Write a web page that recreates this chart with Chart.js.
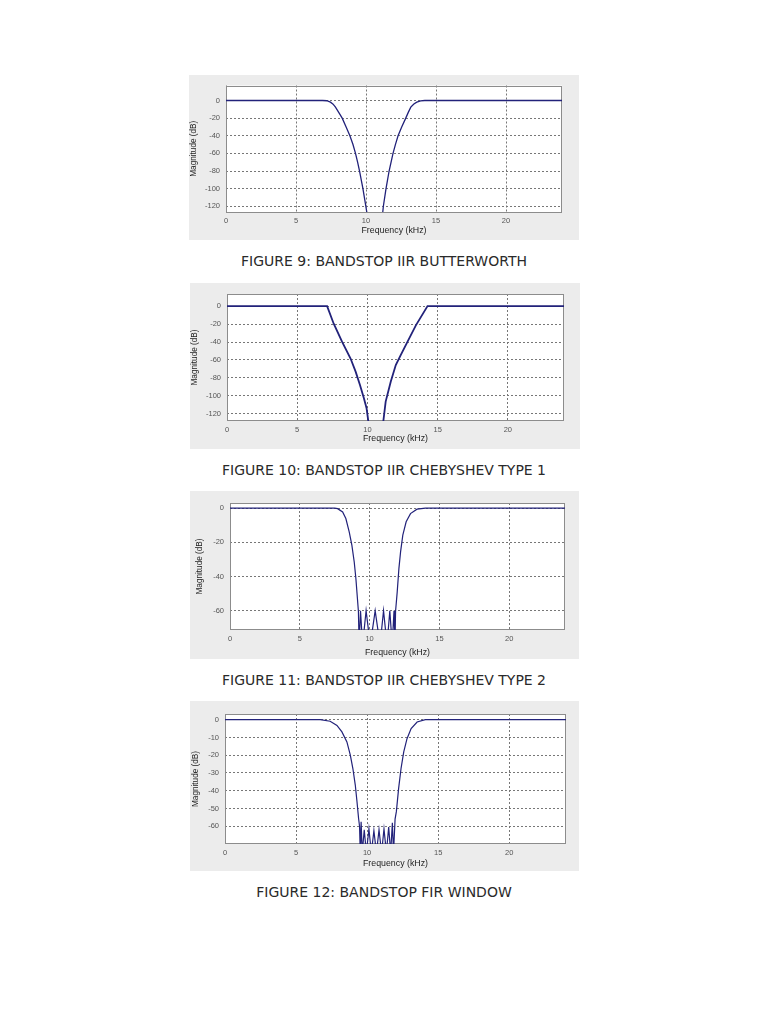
<!DOCTYPE html>
<html>
<head>
<meta charset="utf-8">
<script src="https://cdn.jsdelivr.net/npm/chart.js@4.4.0/dist/chart.umd.min.js"></script>
<style>
  html, body { margin: 0; padding: 0; background: #ffffff; }
  body { width: 768px; height: 1024px; position: relative; overflow: hidden; }
  .panel { position: absolute; background: #ececec; }
  .panel canvas { display: block; }
  .caption {
    position: absolute; left: 0; width: 768px; text-align: center;
    font-family: "DejaVu Sans", sans-serif; font-size: 14px; line-height: 16px; color: #2a2a2a;
  }
</style>
</head>
<body>
<script>
// shared frequency axis (kHz)
const freqTicks = [0, 5, 10, 15, 20];
const freqRange = [0, 24];

// Figure 9: IIR Butterworth
const butterFreq = [0, 6.9, 7.2, 7.46, 7.65, 7.82, 8.05, 8.3, 8.58, 8.85, 9.07, 9.25, 9.4, 9.54, 9.78, 9.99, 10.1,
                    11.17, 11.24, 11.43, 11.65, 11.93, 12.1, 12.29, 12.55, 12.84, 13.02, 13.2, 13.42, 13.63, 13.9, 14.2, 24];
const butterMag = [0, 0, -0.3, -1.9, -4.2, -7.5, -13.5, -20, -30, -40, -50, -60, -70, -80, -100, -120, -131,
                   -131, -120, -100, -80, -60, -50, -40, -30, -20, -13.5, -7.5, -4, -1.9, -0.4, 0, 0];
const butterTicks = [0, -20, -40, -60, -80, -100, -120];
const butterRange = [-126.5, 17];

// Figure 10: IIR Chebyshev type 1
const cheby1Freq = [0, 7.13, 7.6, 8.2, 8.8, 9.16, 9.47, 9.75, 9.94, 10.08,
                    11.12, 11.3, 11.66, 12.02, 12.37, 12.85, 13.45, 14.28, 24];
const cheby1Mag = [0, 0, -19.6, -39.9, -58.4, -73, -87.9, -102.7, -113.8, -130,
                   -130, -106.4, -84.2, -65.7, -54.7, -39.9, -21.4, 0, 0];
const cheby1Ticks = [0, -20, -40, -60, -80, -100, -120];
const cheby1Range = [-128, 13.5];

// Figure 11: IIR Chebyshev type 2
const cheby2Freq = [0, 7.5, 7.71, 8.07, 8.3, 8.54, 8.73, 8.9, 9.02, 9.13, 9.2,
                    9.25, 9.35, 9.5, 9.75, 10.05, 10.4, 10.75, 11.0, 11.25, 11.45, 11.62, 11.75, 11.82, 11.86,
                    11.98, 12.1, 12.22, 12.38, 12.62, 12.93, 13.4, 14.0, 24];
const cheby2Mag = [0, 0, -0.3, -2.2, -6.1, -13.9, -21.7, -31.5, -41.3, -53, -60.5,
                   -80, -60, -80, -60, -80, -60, -80, -60, -80, -60, -80, -60, -80, -60.5,
                   -49, -35.4, -25.6, -15.8, -8, -3.2, -0.6, 0, 0];
const cheby2Ticks = [0, -20, -40, -60];
const cheby2Range = [-71.3, 3];

// Figure 12: FIR window
const firFreq = [0, 6.7, 7.4, 7.88, 8.23, 8.58, 8.82, 9.0, 9.17, 9.29, 9.4, 9.47,
                 9.52, 9.58, 9.66, 9.8, 9.95, 10.13, 10.3, 10.48, 10.66, 10.84, 11.02, 11.19, 11.36, 11.52, 11.66, 11.78, 11.86, 11.97,
                 12.06, 12.22, 12.39, 12.58, 12.81, 13.1, 13.52, 14.1, 24];
const firMag = [0, 0, -0.9, -3.2, -6.9, -12.5, -20, -27.5, -36.8, -46.2, -55.5, -60,
                -75, -57.5, -75, -62, -75, -61.5, -75, -62.5, -75, -62, -75, -61.5, -75, -60.5, -75, -58, -75, -56,
                -51.8, -38.7, -27.5, -18.1, -10.7, -5, -1.3, 0, 0];
const firTicks = [0, -10, -20, -30, -40, -50, -60];
const firRange = [-70, 3.2];

const captions = [
  "FIGURE 9: BANDSTOP IIR BUTTERWORTH",
  "FIGURE 10: BANDSTOP IIR CHEBYSHEV TYPE 1",
  "FIGURE 11: BANDSTOP IIR CHEBYSHEV TYPE 2",
  "FIGURE 12: BANDSTOP FIR WINDOW"
];

// page layout: grey box, plot rectangle, axis-title centres, caption centre
const layouts = [
  { box: [189, 75, 390, 165], plot: [226, 84, 562, 212], yTitleX: 193, xTitleY: 230.7, capY: 261, lw: 1.3 },
  { box: [190, 283, 390, 166], plot: [227, 294, 564, 421], yTitleX: 194, xTitleY: 438.7, capY: 470, lw: 1.8 },
  { box: [190, 491, 389, 168], plot: [230, 503, 565, 630], yTitleX: 199.7, xTitleY: 652.3, capY: 680, lw: 1.2 },
  { box: [190, 701, 389, 170], plot: [225, 714, 566, 844], yTitleX: 195.3, xTitleY: 863.3, capY: 892, lw: 1.2 }
];

const LINE = "#22227a";
const GRID = "#777777";
const FRAME = "#8c8c8c";
const FONT = "'Liberation Sans', Arial, sans-serif";

// grey box round the plot area
const framePlugin = {
  id: "frame",
  beforeDatasetsDraw: (chart) => {
    const { ctx, chartArea: a } = chart;
    ctx.save();
    ctx.strokeStyle = FRAME;
    ctx.lineWidth = 1;
    ctx.strokeRect(Math.round(a.left) + 0.5, Math.round(a.top) + 0.5,
                   Math.round(a.right - a.left) - 1, Math.round(a.bottom - a.top) - 1);
    ctx.restore();
  }
};

// white plot background
const plotBg = {
  id: "plotBg",
  beforeDraw: (chart) => {
    const { ctx, chartArea: a } = chart;
    ctx.save();
    ctx.fillStyle = "#ffffff";
    ctx.fillRect(a.left, a.top, a.right - a.left, a.bottom - a.top);
    ctx.restore();
  }
};

function drawPanel(L, freq, mag, yTicks, yRange, caption) {
  const [left, top, w, h] = L.box;
  const [pl, pt, pr, pb] = L.plot;

  const div = document.createElement("div");
  div.className = "panel";
  div.style.left = left + "px";
  div.style.top = top + "px";
  div.style.width = w + "px";
  div.style.height = h + "px";
  const canvas = document.createElement("canvas");
  canvas.width = w;
  canvas.height = h;
  div.appendChild(canvas);
  document.body.appendChild(div);

  const cap = document.createElement("div");
  cap.className = "caption";
  cap.style.top = (L.capY - 8) + "px";
  cap.textContent = caption;
  document.body.appendChild(cap);

  const xTitleSize = 8.8, yTitleSize = 8.2;
  const padL = Math.max(0, L.yTitleX - left - yTitleSize * 0.6);
  const padB = Math.max(0, top + h - L.xTitleY - xTitleSize * 0.6);

  new Chart(canvas, {
    type: "line",
    data: {
      datasets: [{
        data: freq.map((f, i) => ({ x: f, y: mag[i] })),
        borderColor: LINE,
        borderWidth: L.lw,
        pointRadius: 0,
        tension: 0,
        fill: false
      }]
    },
    options: {
      responsive: false,
      animation: false,
      events: [],
      layout: {
        padding: { left: padL, top: pt - top, right: left + w - pr, bottom: padB }
      },
      plugins: {
        legend: { display: false },
        tooltip: { enabled: false }
      },
      scales: {
        x: {
          type: "linear",
          min: freqRange[0],
          max: freqRange[1],
          afterBuildTicks: (s) => { s.ticks = freqTicks.map(v => ({ value: v })); },
          afterFit: (s) => { s.height = top + h - padB - pb; },
          ticks: {
            color: "#555",
            padding: 4,
            maxRotation: 0,
            autoSkip: false,
            font: { family: FONT, size: 7.5 },
            callback: (v) => String(v)
          },
          grid: { color: GRID, lineWidth: 1, drawTicks: false },
          border: { display: false, dash: [2, 2] },
          title: {
            display: true,
            text: "Frequency (kHz)",
            color: "#222",
            padding: 0,
            font: { family: FONT, size: xTitleSize }
          }
        },
        y: {
          min: yRange[0],
          max: yRange[1],
          afterBuildTicks: (s) => { s.ticks = yTicks.map(v => ({ value: v })); },
          afterFit: (s) => { s.width = pl - left - padL; },
          ticks: {
            color: "#555",
            padding: 6,
            autoSkip: false,
            font: { family: FONT, size: 7.5 },
            callback: (v) => String(v)
          },
          grid: { color: GRID, lineWidth: 1, drawTicks: false },
          border: { display: false, dash: [2, 2] },
          title: {
            display: true,
            text: "Magnitude (dB)",
            color: "#222",
            padding: 0,
            font: { family: FONT, size: yTitleSize }
          }
        }
      }
    },
    plugins: [plotBg, framePlugin]
  });
}

drawPanel(layouts[0], butterFreq, butterMag, butterTicks, butterRange, captions[0]);
drawPanel(layouts[1], cheby1Freq, cheby1Mag, cheby1Ticks, cheby1Range, captions[1]);
drawPanel(layouts[2], cheby2Freq, cheby2Mag, cheby2Ticks, cheby2Range, captions[2]);
drawPanel(layouts[3], firFreq, firMag, firTicks, firRange, captions[3]);
</script>
</body>
</html>
